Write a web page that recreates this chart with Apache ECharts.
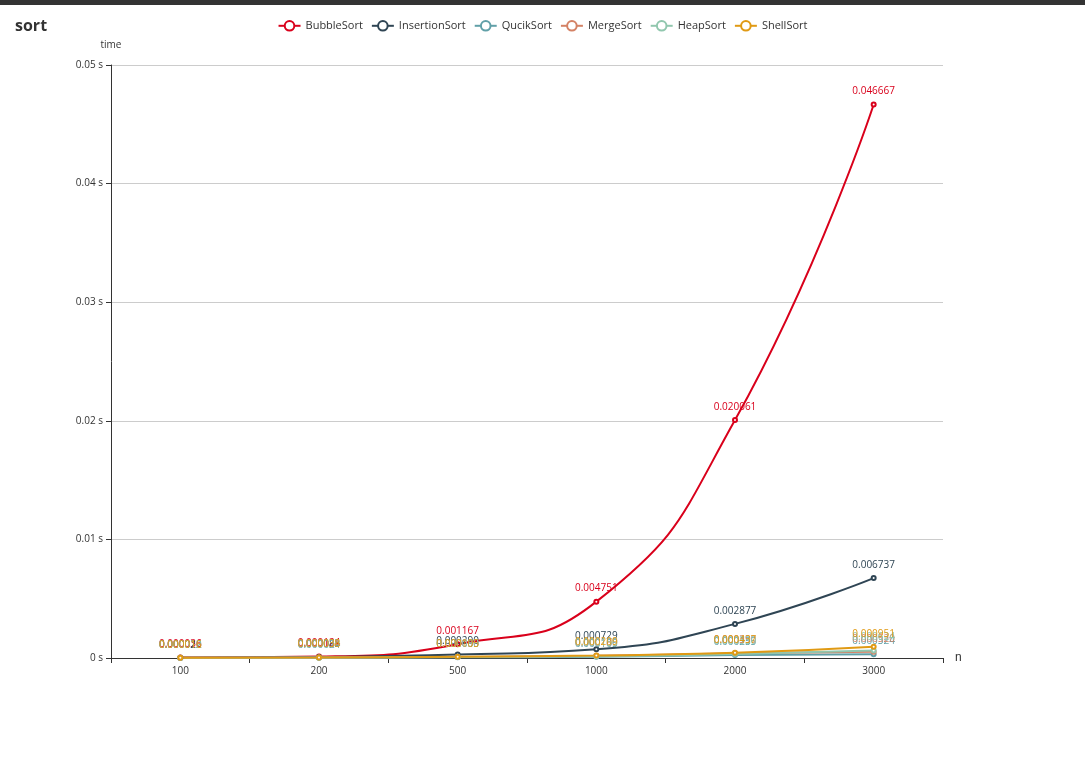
<!DOCTYPE html>
<html><head><meta charset="utf-8">
<script src="https://cdn.jsdelivr.net/npm/echarts@6/dist/echarts.min.js"></script>
<style>body{margin:0;background:#fff}#bar{height:5px;background:#333}#c{width:1085px;height:773px}</style>
</head><body><div id="bar"></div><div id="c"></div>
<script>
const categories = ['100','200','500','1000','2000','3000'];
const bubble = [0.000036,0.000124,0.001167,0.004751,0.020061,0.046667];
const insertion = [0.000022,0.000085,0.000290,0.000729,0.002877,0.006737];
const quick = [0.000010,0.000024,0.000060,0.000105,0.000255,0.000324];
const merge = [0.000015,0.000034,0.000090,0.000180,0.000390,0.000520];
const heap = [0.000012,0.000030,0.000080,0.000150,0.000330,0.000624];
const shell = [0.000016,0.000038,0.000105,0.000209,0.000437,0.000951];
const names = ['BubbleSort','InsertionSort','QucikSort','MergeSort','HeapSort','ShellSort'];
const colors = ['#d9001b','#2f4554','#61a0a8','#d48265','#91c7ae','#e09a14'];
const data = [bubble,insertion,quick,merge,heap,shell];
const chart = echarts.init(document.getElementById('c'));
chart.setOption({
  color: colors,
  title:{text:'sort',left:10,top:8,textStyle:{fontSize:16,fontWeight:'bold',color:'#333',fontFamily:'Open Sans'}},
  legend:{top:10,left:'center',itemWidth:22,itemHeight:12,itemGap:8,textStyle:{fontSize:11,color:'#333',fontFamily:'Open Sans'},data:names},
  grid:{left:111,right:142,top:60,bottom:120},
  xAxis:{type:'category',data:categories,name:'n',nameGap:12,
    axisLine:{lineStyle:{color:'#333'}},axisLabel:{color:'#333',fontSize:10,fontFamily:'Open Sans'},
    axisTick:{show:true}},
  yAxis:{type:'value',name:'time',min:0,max:0.05,interval:0.01,nameTextStyle:{color:'#333',fontSize:10,fontFamily:'Open Sans'},
    axisLine:{show:true,lineStyle:{color:'#333'}},axisTick:{show:true},
    axisLabel:{formatter:v=>v+' s',color:'#333',fontSize:10,fontFamily:'Open Sans'},
    splitLine:{lineStyle:{color:'#ccc'}}},
  series:data.map((d,i)=>({name:names[i],type:'line',smooth:true,data:d,symbol:'emptyCircle',symbolSize:4,
    lineStyle:{width:2},label:{show:true,position:'top',fontSize:10,fontFamily:'Open Sans',color:colors[i],formatter:p=>p.value.toFixed(6)}}))
});
</script></body></html>
